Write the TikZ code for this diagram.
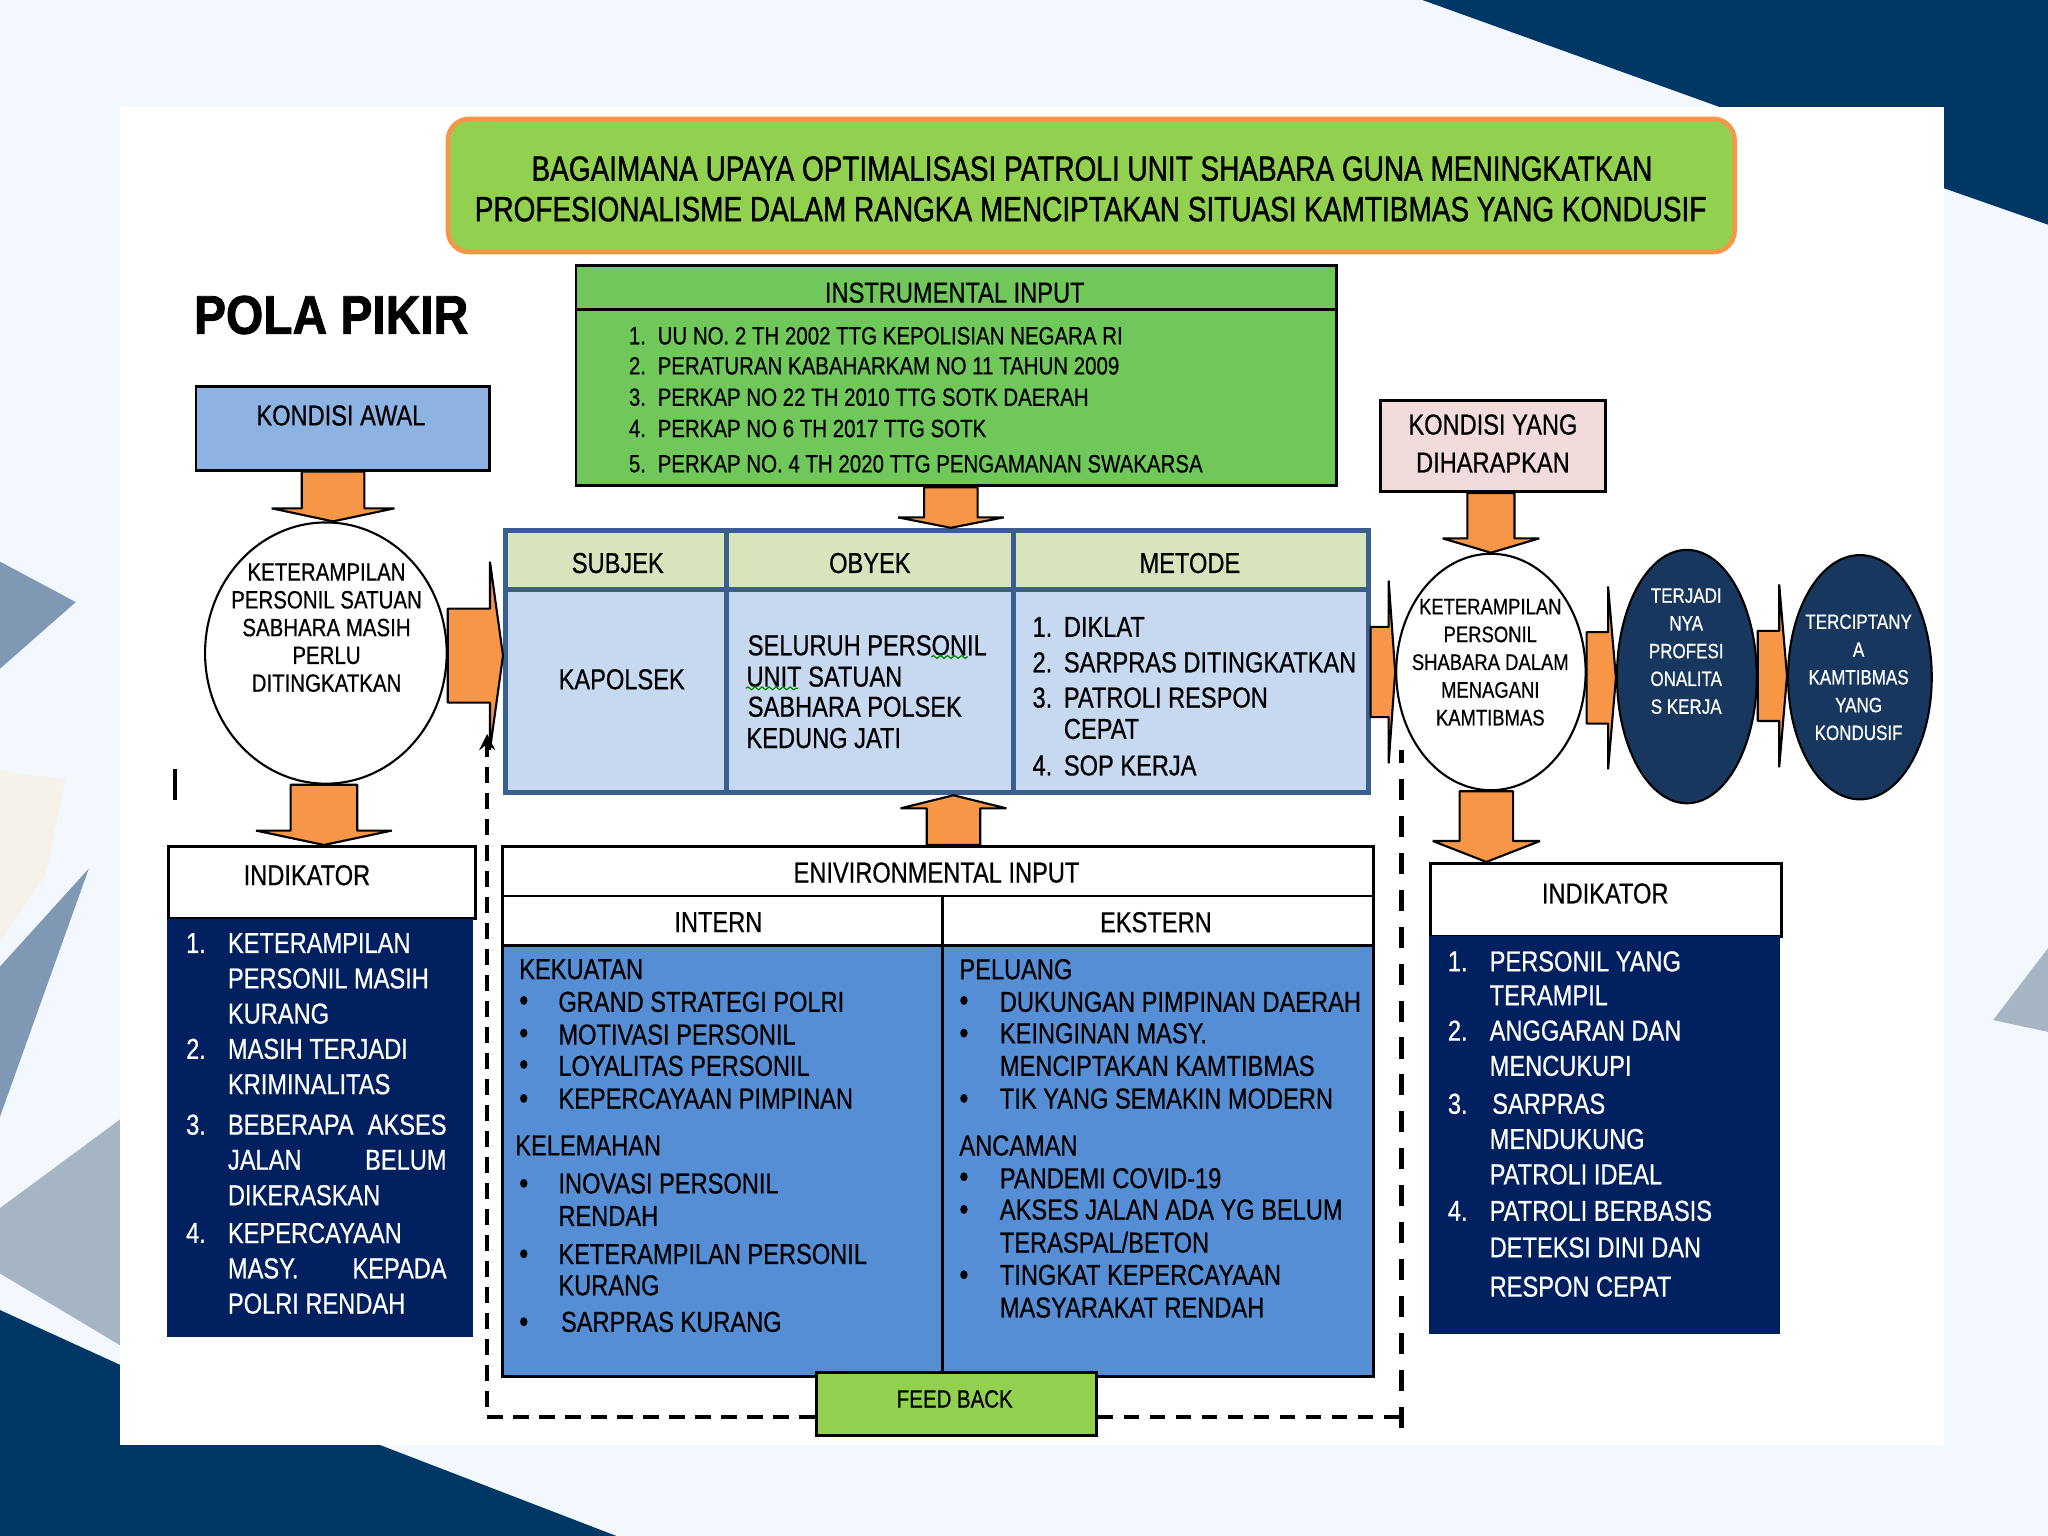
\documentclass[tikz,border=0pt]{standalone}
\usepackage{fontspec}
\setmainfont{Liberation Sans}[FakeStretch=0.82,FakeBold=0.6]
\newfontfamily\titlefont{Liberation Sans}[FakeStretch=0.8,FakeBold=1.1]
\newfontfamily\polafont{Liberation Sans Bold}[FakeStretch=0.88,FakeBold=1.5]
\usetikzlibrary{calc}
\usetikzlibrary{positioning}
\usetikzlibrary{shapes.geometric}
\usetikzlibrary{decorations.pathmorphing}
\newcommand{\szbig}{\fontsize{8.2}{9}\selectfont}
\newcommand{\szmed}{\fontsize{7.1}{7.9}\selectfont}
\newcommand{\szsma}{\fontsize{6.4}{7.9}\selectfont}
\newcommand{\sztin}{\fontsize{5.9}{7.9}\selectfont}
\newcommand{\sztitle}{\fontsize{9.95}{11}\selectfont}
\definecolor{bgpale}{HTML}{F3F7FE}
\definecolor{bgnavy}{HTML}{003764}
\definecolor{bgslate}{HTML}{7F98B4}
\definecolor{bggrey}{HTML}{A6B4C4}
\definecolor{bgcream}{HTML}{F6F2EA}
\definecolor{limegreen}{HTML}{92D050}
\definecolor{leafgreen}{HTML}{70C85A}
\definecolor{edgeorange}{HTML}{F79646}
\definecolor{skyblue}{HTML}{8DB3E2}
\definecolor{rosepale}{HTML}{F2DCDB}
\definecolor{tablehead}{HTML}{D8E4BC}
\definecolor{tablebody}{HTML}{C6D9F1}
\definecolor{tableedge}{HTML}{3A5F8F}
\definecolor{envblue}{HTML}{558ED5}
\definecolor{indnavy}{HTML}{002060}
\definecolor{ovalnavy}{HTML}{17375E}
\tikzset{
  wh/.style 2 args={
    minimum width=#1*0.013061cm,
    minimum height=#2*0.013061cm
  },
  bx/.style={draw=black, line width=0.8pt, inner sep=0pt},
  cell/.style={draw=tableedge, line width=1.4pt, inner sep=0pt},
  oval/.style={ellipse, draw=black, line width=0.6pt, inner sep=0pt},
  lbl/.style={inner sep=0pt, text depth=0pt, font=\szbig},
  lst/.style={lbl, anchor=west},
  med/.style={lst, font=\szmed},
  whl/.style={lst, text=white},
  fit168/.style={text width=62.2pt},
  dot/.style={inner sep=0pt, yshift=-0.5pt, font=\fontsize{9}{9}\selectfont},
  block/.style={draw=black, line width=0.6pt, fill=edgeorange, line join=bevel},
  dashfb/.style={line width=1pt, dash pattern=on 4.4pt off 3pt},
  squig/.style={draw=green!55!black, line width=0.35pt,
    decorate, decoration={snake, amplitude=0.4pt, segment length=2pt}}
}
\newcommand{\blockv}[6]{
  \coordinate (T) at ($(#2)+(#6,0)$);
  \coordinate (Tr) at ($(T)+(#3,0)$);
  \coordinate (Tl) at ($(T)+(-#3,0)$);
  \draw [block] (T) -- ++(#4,{-1*(#5)}) -- ++({#3-#4},0) -- (Tr |- #1)
    -- (Tl |- #1) -- ($(Tl)+(0,{-1*(#5)})$) -- ++({#3-#4},0) -- cycle;
}
\newcommand{\blockh}[6]{
  \coordinate (T) at ($(#2)+(0,#6)$);
  \coordinate (Tu) at ($(T)+(0,-#3)$);
  \coordinate (Td) at ($(T)+(0,#3)$);
  \draw [block] (T) -- ++(-#5,-#4) -- ++(0,{#4-#3}) -- (Tu -| #1)
    -- (Td -| #1) -- ($(Td)+(-#5,0)$) -- ++(0,{#4-#3}) -- cycle;
}
\begin{document}
\begin{tikzpicture}[x=0.013061cm, y=-0.013061cm]
\useasboundingbox (0,0) rectangle (1568,1176);
\fill [bgpale] (0,0) rectangle (1568,1176);
\fill [bgnavy] (1089,0) -- (1568,0) -- (1568,172) -- (1488,144) -- (1314,81) -- cycle;
\fill [bgnavy] (0,1003) -- (92,1045) -- (92,1106) -- (290,1106) -- (472,1176) -- (0,1176) -- cycle;
\fill [bgslate] (0,430) -- (58,461) -- (0,512) -- cycle;
\fill [bgslate] (68,665) -- (0,740) -- (0,855) -- cycle;
\fill [bggrey] (0,925) -- (92,857) -- (92,1030) -- (0,975) -- cycle;
\fill [bgcream] (0,590) -- (50,597) -- (35,670) -- (0,720) -- cycle;
\fill [bggrey] (1568,726) -- (1526,781) -- (1568,790) -- cycle;
\fill [white] (92,82) rectangle (1488,1106);

\node (title) [draw=edgeorange, line width=1.3pt, fill=limegreen, rounded corners=6pt, wh={985}{102}] at (835.5,142) {};
\node (titlea) [lbl, font=\titlefont\sztitle] at (836,129) {BAGAIMANA UPAYA OPTIMALISASI PATROLI UNIT SHABARA GUNA MENINGKATKAN};
\node (titleb) [lbl, font=\titlefont\sztitle] at (835,160) {PROFESIONALISME DALAM RANGKA MENCIPTAKAN SITUASI KAMTIBMAS YANG KONDUSIF};
\node (pola) [lst, font=\polafont\fontsize{15.5}{17}\selectfont] at (148,241) {POLA PIKIR};

\node (insth) [bx, fill=leafgreen, wh={582}{34}] at (732,220) {};
\node (inst) [bx, fill=leafgreen, wh={582}{135}] at (732,304.5) {};
\node (instt) [lbl] at (731,224) {INSTRUMENTAL INPUT};
\node (ina) [med] at (481,257) {1.};
\node (inb) [med] at (481,280) {2.};
\node (inc) [med] at (481,304) {3.};
\node (ind) [med] at (481,328) {4.};
\node (ine) [med] at (481,355) {5.};
\node (inta) [med] at (503,257) {UU NO. 2 TH 2002 TTG KEPOLISIAN NEGARA RI};
\node (intb) [med] at (503,280) {PERATURAN KABAHARKAM NO 11 TAHUN 2009};
\node (intc) [med] at (503,304) {PERKAP NO 22 TH 2010 TTG SOTK DAERAH};
\node (intd) [med] at (503,328) {PERKAP NO 6 TH 2017 TTG SOTK};
\node (inte) [med] at (503,355) {PERKAP NO. 4 TH 2020 TTG PENGAMANAN SWAKARSA};

\node (kawal) [bx, fill=skyblue, wh={225}{64}] at (262.5,328) {};
\node (kawalt) [lbl] at (261,318) {KONDISI AWAL};
\node (ell1) [oval, fill=white, wh={185}{200}] at (249.5,500) {};
\node (ell1t) [lbl, font=\szmed, align=center] at (250,480.5) {KETERAMPILAN\\PERSONIL SATUAN\\SABHARA MASIH\\PERLU\\DITINGKATKAN};
\node (bar) [fill=black, inner sep=0pt, wh={3}{24}] at (134,600.5) {};

\node (ind1h) [bx, fill=white, wh={234.5}{55}] at (246.5,675.5) {};
\node (ind1b) [fill=indnavy, inner sep=0pt, wh={234}{320}] at (245,863.5) {};
\node (ind1t) [lbl] at (235,670) {INDIKATOR};
\node (ila) [whl] at (142,722) {1.};
\node (ilb) [whl] at (142,803) {2.};
\node (ilc) [whl] at (142,861) {3.};
\node (ild) [whl] at (142,944) {4.};
\node (ilta) [whl] at (174,722) {KETERAMPILAN};
\node (iltb) [whl] at (174,749) {PERSONIL MASIH};
\node (iltc) [whl] at (174,776) {KURANG};
\node (iltd) [whl] at (174,803) {MASIH TERJADI};
\node (ilte) [whl] at (174,830) {KRIMINALITAS};
\node (iltf) [whl, fit168] at (174,861) {BEBERAPA\hfill AKSES};
\node (iltg) [whl, fit168] at (174,888) {JALAN\hfill BELUM};
\node (ilth) [whl] at (174,915) {DIKERASKAN};
\node (ilti) [whl] at (174,944) {KEPERCAYAAN};
\node (iltj) [whl, fit168] at (174,971) {MASY.\hfill KEPADA};
\node (iltk) [whl] at (174,998) {POLRI RENDAH};

\node (hsub) [cell, fill=tablehead, wh={169}{45}] at (471.5,428.5) {};
\node (hoby) [cell, fill=tablehead, wh={220}{45}] at (666,428.5) {};
\node (hmet) [cell, fill=tablehead, wh={271.5}{45}] at (911.75,428.5) {};
\node (bsub) [cell, fill=tablebody, wh={169}{156}] at (471.5,529) {};
\node (boby) [cell, fill=tablebody, wh={220}{156}] at (666,529) {};
\node (bmet) [cell, fill=tablebody, wh={271.5}{156}] at (911.75,529) {};
\node (hsubt) [lbl] at (473,431) {SUBJEK};
\node (hobyt) [lbl] at (666,431) {OBYEK};
\node (hmett) [lbl] at (911,431) {METODE};
\node (tsub) [lbl] at (476,520) {KAPOLSEK};
\node (toba) [lst] at (572,494) {SELURUH PERSONIL};
\node (tobb) [lst] at (571,518) {UNIT SATUAN};
\node (tobc) [lst] at (572,541) {SABHARA POLSEK};
\node (tobd) [lst] at (571,565) {KEDUNG JATI};
\draw [squig] (713,503) -- (741,503);
\draw [squig] (571,527) -- (611,527);
\node (mna) [lst] at (790,480) {1.};
\node (mnb) [lst] at (790,507) {2.};
\node (mnc) [lst] at (790,534) {3.};
\node (mnd) [lst] at (790,586) {4.};
\node (mta) [lst] at (814,480) {DIKLAT};
\node (mtb) [lst] at (814,507) {SARPRAS DITINGKATKAN};
\node (mtc) [lst] at (814,534) {PATROLI RESPON};
\node (mtd) [lst] at (814,558) {CEPAT};
\node (mte) [lst] at (814,586) {SOP KERJA};

\node (envh) [bx, fill=white, wh={666.5}{38}] at (718.25,667) {};
\node (envi) [bx, fill=white, wh={336.5}{38}] at (553.25,705) {};
\node (enve) [bx, fill=white, wh={330}{38}] at (886.5,705) {};
\node (envl) [bx, fill=envblue, wh={336.5}{330}] at (553.25,889) {};
\node (envr) [bx, fill=envblue, wh={330}{330}] at (886.5,889) {};
\node (envht) [lbl] at (717,668) {ENIVIRONMENTAL INPUT};
\node (envit) [lbl] at (550,706) {INTERN};
\node (envet) [lbl] at (885,706) {EKSTERN};
\node (elh) [lst] at (397,742) {KEKUATAN};
\node (ela) [dot] at (401,767) {\textbullet};
\node (elb) [dot] at (401,792) {\textbullet};
\node (elc) [dot] at (401,816) {\textbullet};
\node (eld) [dot] at (401,842) {\textbullet};
\node (elta) [lst] at (427,767) {GRAND STRATEGI POLRI};
\node (eltb) [lst] at (427,792) {MOTIVASI PERSONIL};
\node (eltc) [lst] at (427,816) {LOYALITAS PERSONIL};
\node (eltd) [lst] at (427,841) {KEPERCAYAAN PIMPINAN};
\node (elk) [lst] at (394,877) {KELEMAHAN};
\node (ele) [dot] at (401,907) {\textbullet};
\node (elf) [dot] at (401,961) {\textbullet};
\node (elg) [dot] at (401,1013) {\textbullet};
\node (elte) [lst] at (427,906) {INOVASI PERSONIL};
\node (eltf) [lst] at (427,931) {RENDAH};
\node (eltg) [lst] at (427,960) {KETERAMPILAN PERSONIL};
\node (elth) [lst] at (427,984) {KURANG};
\node (elti) [lst] at (429,1012) {SARPRAS KURANG};
\node (erh) [lst] at (734,742) {PELUANG};
\node (era) [dot] at (738,767) {\textbullet};
\node (erb) [dot] at (738,792) {\textbullet};
\node (erc) [dot] at (738,842) {\textbullet};
\node (erta) [lst] at (765,767) {DUKUNGAN PIMPINAN DAERAH};
\node (ertb) [lst] at (765,791) {KEINGINAN MASY.};
\node (ertc) [lst] at (765,816) {MENCIPTAKAN KAMTIBMAS};
\node (ertd) [lst] at (765,841) {TIK YANG SEMAKIN MODERN};
\node (erk) [lst] at (734,877) {ANCAMAN};
\node (erd) [dot] at (738,902) {\textbullet};
\node (ere) [dot] at (738,927) {\textbullet};
\node (erf) [dot] at (738,977) {\textbullet};
\node (erte) [lst] at (765,902) {PANDEMI COVID-19};
\node (ertf) [lst] at (765,926) {AKSES JALAN ADA YG BELUM};
\node (ertg) [lst] at (765,951) {TERASPAL/BETON};
\node (erth) [lst] at (765,976) {TINGKAT KEPERCAYAAN};
\node (erti) [lst] at (765,1001) {MASYARAKAT RENDAH};

\node (feed) [bx, fill=limegreen, wh={214.5}{48}] at (732.25,1075) {};
\node (feedt) [lbl, font=\szmed] at (731,1071) {FEED BACK};
\coordinate (dbl) at (373,1085);
\coordinate (dtl) at (373,562);
\coordinate (dbr) at (1073,1085);
\coordinate (dbt) at (1073,1093);
\coordinate (dtr) at (1073,574);
\draw [dashfb, ->, >=stealth] (feed.west |- dbl) -- (dbl) -- (dtl);
\draw [dashfb] (feed.east |- dbr) -- (dbr);
\draw [line width=1.2pt, dash pattern=on 6pt off 4.5pt] (dbt) -- (dtr);

\node (kyang) [bx, fill=rosepale, wh={172.5}{70}] at (1143.25,341.5) {};
\node (kyangt) [lbl, align=center, text depth=0pt] at (1143,339.5) {KONDISI YANG\\[1.8pt]DIHARAPKAN};
\node (ell3) [oval, fill=ovalnavy, wh={107}{194}] at (1291.5,518) {};
\node (ell4) [oval, fill=ovalnavy, wh={110}{187}] at (1424,518.5) {};
\node (ell2) [oval, fill=white, wh={145}{181}] at (1141.5,514.5) {};
\node (ell2t) [lbl, font=\szsma, align=center] at (1141,507) {KETERAMPILAN\\PERSONIL\\SHABARA DALAM\\MENAGANI\\KAMTIBMAS};
\node (ell3t) [lbl, font=\sztin, text=white, align=center] at (1291,498.5) {TERJADI\\NYA\\PROFESI\\ONALITA\\S KERJA};
\node (ell4t) [lbl, font=\sztin, text=white, align=center] at (1423,518.5) {TERCIPTANY\\A\\KAMTIBMAS\\YANG\\KONDUSIF};

\node (ind2h) [bx, fill=white, wh={269}{56}] at (1229.5,689) {};
\node (ind2b) [fill=indnavy, inner sep=0pt, wh={269}{304}] at (1228.5,869) {};
\node (ind2t) [lbl] at (1229,684) {INDIKATOR};
\node (ira) [whl] at (1108,736) {1.};
\node (irb) [whl] at (1108,789) {2.};
\node (irc) [whl] at (1108,845) {3.};
\node (ird) [whl] at (1108,927) {4.};
\node (irta) [whl] at (1140,736) {PERSONIL YANG};
\node (irtb) [whl] at (1140,762) {TERAMPIL};
\node (irtc) [whl] at (1140,789) {ANGGARAN DAN};
\node (irtd) [whl] at (1140,816) {MENCUKUPI};
\node (irte) [whl] at (1142,845) {SARPRAS};
\node (irtf) [whl] at (1140,872) {MENDUKUNG};
\node (irtg) [whl] at (1140,899) {PATROLI IDEAL};
\node (irth) [whl] at (1140,927) {PATROLI BERBASIS};
\node (irti) [whl] at (1140,955) {DETEKSI DINI DAN};
\node (irtj) [whl] at (1140,985) {RESPON CEPAT};

\blockv{kawal.south}{ell1.north}{24}{47}{10}{5.5}
\blockv{inst.south}{hoby.north}{20.5}{40.5}{8}{62}
\blockv{envh.north}{boby.south}{20.5}{40.5}{-10}{64}
\blockv{ell1.south}{ind1h.north}{25.5}{52}{11}{1.5}
\blockv{kyang.south}{ell2.north}{18}{37}{11}{0}
\blockv{ell2.south}{ind2h.north}{20.5}{41}{16}{-91.5}
\blockh{ell1.east}{bsub.west}{36}{72}{10}{-27}
\blockh{bmet.east}{ell2.west}{34.5}{70}{5}{0}
\blockh{ell2.east}{ell3.west}{35}{70}{6}{1}
\blockh{ell3.east}{ell4.west}{34.5}{70}{6}{-1}
\end{tikzpicture}
\end{document}
